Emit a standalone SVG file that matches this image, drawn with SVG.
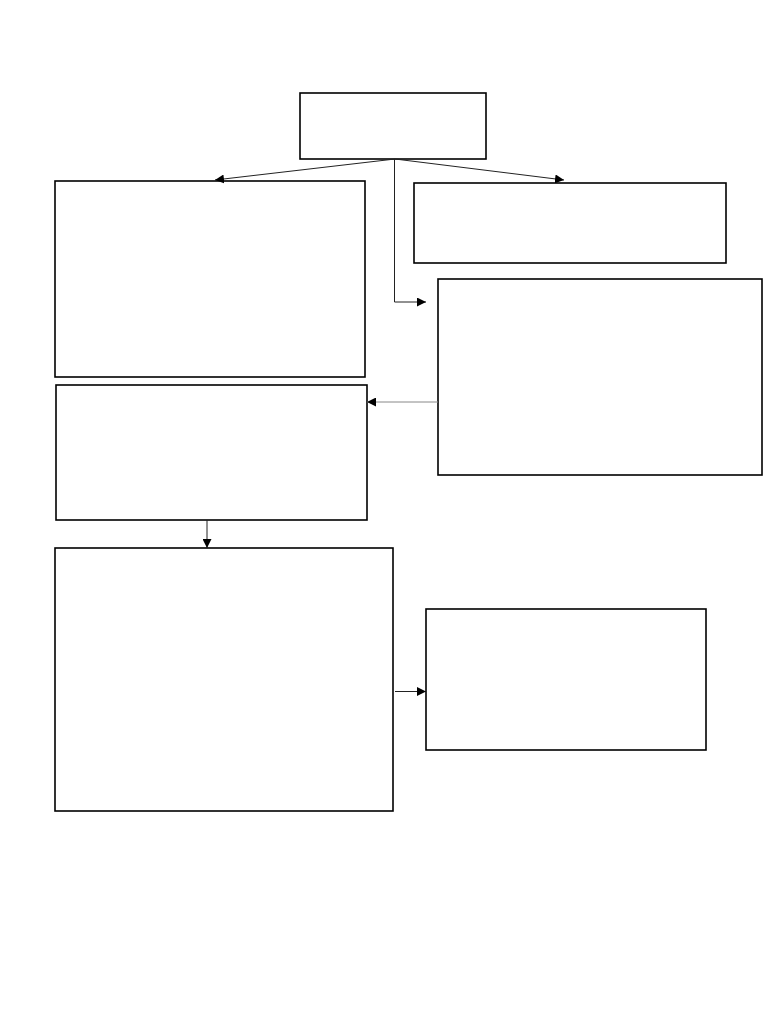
<svg xmlns="http://www.w3.org/2000/svg" width="768" height="1024" viewBox="0 0 768 1024">
<style>
.box{fill:#fff;stroke:#000;stroke-width:1.6}
.con{fill:none;stroke:#222;stroke-width:1}
.grey{stroke:#888}
</style>
<defs>
<marker id="ah" viewBox="0 0 10 10" refX="10" refY="5" markerWidth="9" markerHeight="9" markerUnits="userSpaceOnUse" orient="auto">
<path d="M0,0 L10,5 L0,10 z" fill="#000"/>
</marker>
</defs>
<rect width="768" height="1024" fill="#fff"/>
<g id="n-top"><rect class="box" x="300" y="93" width="186" height="66"/></g>
<g id="n-left1"><rect class="box" x="55" y="181" width="310" height="196"/></g>
<g id="n-right1"><rect class="box" x="414" y="183" width="312" height="80"/></g>
<g id="n-right2"><rect class="box" x="438" y="279" width="324" height="196"/></g>
<g id="n-left2"><rect class="box" x="56" y="385" width="311" height="135"/></g>
<g id="n-left3"><rect class="box" x="55" y="548" width="338" height="263"/></g>
<g id="n-right3"><rect class="box" x="426" y="609" width="280" height="141"/></g>
<g id="connectors">
<line class="con" x1="395" y1="159" x2="215" y2="180" marker-end="url(#ah)"/>
<line class="con" x1="395" y1="159" x2="564" y2="180" marker-end="url(#ah)"/>
<polyline class="con" points="394.5,159 394.5,302 426,302" marker-end="url(#ah)"/>
<line class="con grey" x1="438" y1="402" x2="367" y2="402" marker-end="url(#ah)"/>
<line class="con" x1="207" y1="520" x2="207" y2="548" marker-end="url(#ah)"/>
<line class="con" x1="395" y1="691.5" x2="426" y2="691.5" marker-end="url(#ah)"/>
</g>
</svg>
